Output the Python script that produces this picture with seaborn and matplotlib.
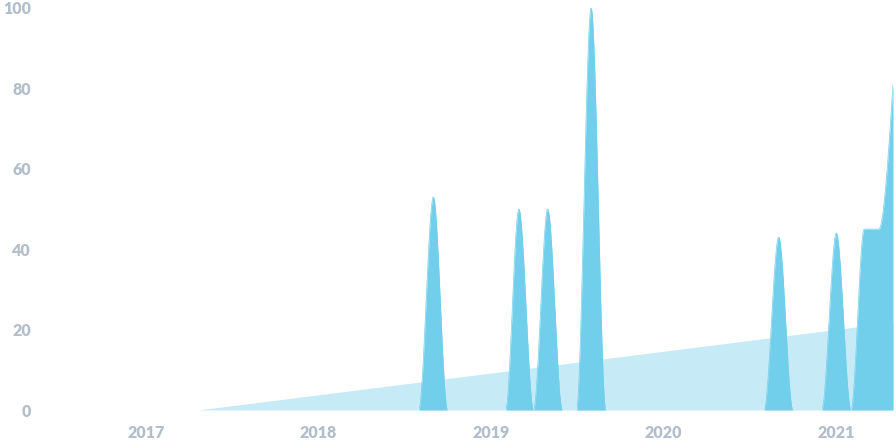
import numpy as np
import pandas as pd
import matplotlib
matplotlib.use("Agg")
import matplotlib.pyplot as plt
import matplotlib.dates as mdates
import seaborn as sns

# Monthly values, Jun 2016 .. May 2021
months = pd.date_range("2016-06-01", "2021-05-01", freq="MS")
spikes = {
    "2018-09-01": 53,
    "2019-03-01": 50,
    "2019-05-01": 50,
    "2019-08-01": 100,
    "2020-09-01": 43,
    "2021-01-01": 44,
    "2021-03-01": 45,
    "2021-04-01": 45,
    "2021-05-01": 81,
}
values = pd.Series(0.0, index=months)
for d, v in spikes.items():
    values[pd.Timestamp(d)] = v

df = pd.DataFrame({"date": months, "value": values.values})

dark_blue = "#72CFEC"
light_blue = "#C6EBF6"
label_color = "#B3BECB"


def monotone_curve(x, y, n=40):
    # monotone cubic (d3 curveMonotoneX style) for the smoothed area edge
    x = np.asarray(x, float)
    y = np.asarray(y, float)
    h = np.diff(x)
    s = np.diff(y) / h
    m = np.zeros_like(y)
    for i in range(1, len(y) - 1):
        if s[i - 1] * s[i] <= 0:
            m[i] = 0
        else:
            p = (s[i - 1] * h[i] + s[i] * h[i - 1]) / (h[i - 1] + h[i])
            m[i] = np.sign(s[i - 1]) * min(abs(s[i - 1]), abs(s[i]), 0.5 * abs(p)) * 2
    m[0] = (3 * s[0] - m[1]) / 2
    m[-1] = (3 * s[-1] - m[-2]) / 2
    xs, ys = [], []
    for i in range(len(h)):
        t = np.linspace(0, 1, n)
        h00 = 2 * t**3 - 3 * t**2 + 1
        h10 = t**3 - 2 * t**2 + t
        h01 = -2 * t**3 + 3 * t**2
        h11 = t**3 - t**2
        xs.append(x[i] + t * h[i])
        ys.append(h00 * y[i] + h10 * h[i] * m[i] + h01 * y[i + 1] + h11 * h[i] * m[i + 1])
    return np.concatenate(xs), np.concatenate(ys)


xnum = mdates.date2num(df["date"])
cx, cy = monotone_curve(xnum, df["value"].values)
cy = np.maximum(cy, 0)

# linear trend of the monthly values
coef = np.polyfit(xnum, df["value"].values, 1)
trend = np.clip(np.polyval(coef, cx), 0, None)

sns.set_theme(style="white")
plt.rcParams["font.family"] = ["Lato", "DejaVu Sans"]

fig = plt.figure(figsize=(8.96, 4.48), dpi=100)
ax = fig.add_axes([45 / 896, 38 / 448, 848 / 896, 402 / 448])

ax.fill_between(cx, 0, trend, color=light_blue, linewidth=0, zorder=1)
ax.fill_between(cx, 0, cy, color=dark_blue, linewidth=0, zorder=2)
ax.plot(cx, np.where(cy > 0.3, cy, np.nan), color=dark_blue, linewidth=0.5, zorder=3)
ax.axhline(0, color="#EEF6FA", lw=0.8, zorder=0)

ax.set_xlim(xnum[0], xnum[-1])
ax.set_ylim(0, 100)
ax.set_yticks([0, 20, 40, 60, 80, 100])
ax.xaxis.set_major_locator(mdates.YearLocator())
ax.xaxis.set_major_formatter(mdates.DateFormatter("%Y"))
ax.tick_params(axis="both", length=0, labelsize=11.5, colors=label_color)
ax.tick_params(axis="x", pad=11)
ax.tick_params(axis="y", pad=10)
for lab in ax.get_xticklabels() + ax.get_yticklabels():
    lab.set_fontweight("heavy")
for sp in ax.spines.values():
    sp.set_visible(False)
ax.set_xlabel("")
ax.set_ylabel("")
ax.grid(False)

fig.savefig("out.png", dpi=100)
